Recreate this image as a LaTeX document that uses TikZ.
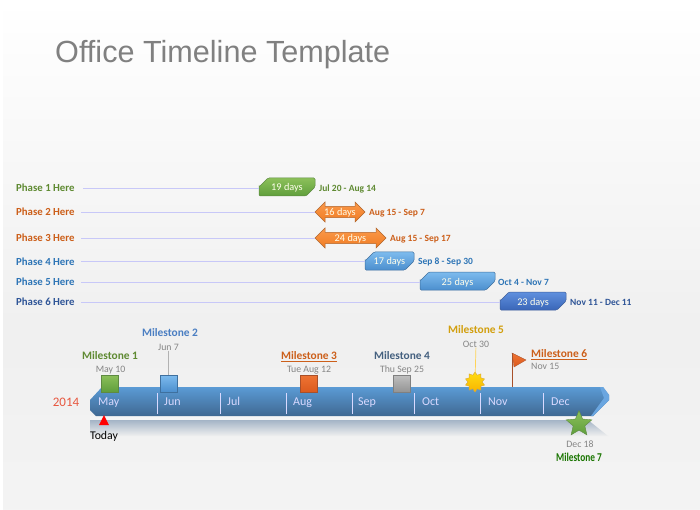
\documentclass[tikz,border=0pt]{standalone}
\usepackage{fontspec}
\setmainfont{Carlito}
\newfontfamily\titlefont{Liberation Sans}
\usetikzlibrary{shapes.misc,shapes.arrows,shapes.geometric}
\definecolor{greentxt}{HTML}{5F8A32}
\definecolor{orangetxt}{HTML}{CC5F1A}
\definecolor{bluetxt}{HTML}{2E75B6}
\definecolor{navytxt}{HTML}{2F5597}
\definecolor{slatetxt}{HTML}{44607F}
\definecolor{goldtxt}{HTML}{D29F0E}
\definecolor{skytxt}{HTML}{4A7EC2}
\definecolor{datetxt}{HTML}{858585}
\definecolor{linecol}{HTML}{C8C8F8}
\definecolor{greentop}{HTML}{8CC05A}
\definecolor{greenbot}{HTML}{5F9E3C}
\definecolor{greenedge}{HTML}{5E8A42}
\definecolor{lighttop}{HTML}{7DBBEE}
\definecolor{lightbot}{HTML}{4C8FCE}
\definecolor{lightedge}{HTML}{3F709E}
\definecolor{darktop}{HTML}{5F90DE}
\definecolor{darkbot}{HTML}{3A66B8}
\definecolor{darkedge}{HTML}{3F5F9A}
\definecolor{orangetop}{HTML}{FA9A4C}
\definecolor{orangebot}{HTML}{F07C22}
\definecolor{orangeedge}{HTML}{B0652C}
\definecolor{redtop}{HTML}{EE7433}
\definecolor{redbot}{HTML}{DC5A1E}
\definecolor{rededge}{HTML}{A8502A}
\definecolor{goldtop}{HTML}{FFDC14}
\definecolor{goldbot}{HTML}{F8B400}
\definecolor{goldedge}{HTML}{D8A838}
\definecolor{bandtop}{HTML}{5B9BD5}
\definecolor{bandbot}{HTML}{3F6892}
\definecolor{bandend}{HTML}{6AA6E0}
\definecolor{reflect}{HTML}{A4B4C6}
\tikzset{
  phaselabel/.style={anchor=mid west,inner sep=0,yshift=-1.5pt,font=\bfseries\fontsize{10.8}{12}\selectfont},
  rangelabel/.style={anchor=mid west,inner sep=0,yshift=-1pt,font=\bfseries\fontsize{9.5}{12}\selectfont},
  phaseline/.style={draw=linecol,line width=1pt},
  chambar/.style={chamfered rectangle,chamfered rectangle corners={north west,south east},
    chamfered rectangle xsep=5pt,chamfered rectangle ysep=5pt,inner sep=0,text=white!92!yellow,
    text height=8pt,text depth=0pt,rounded corners=1.2pt,
    font=\fontsize{10.3}{12}\selectfont,line width=.5pt},
  greenbar/.style={chambar,top color=greentop,bottom color=greenbot,draw=greenedge},
  lightbar/.style={chambar,top color=lighttop,bottom color=lightbot,draw=lightedge},
  darkbar/.style={chambar,top color=darktop,bottom color=darkbot,draw=darkedge},
  orangebar/.style={double arrow,double arrow head extend=3pt,inner sep=0,text=white!92!yellow,
    text height=7pt,text depth=0pt,
    top color=orangetop,bottom color=orangebot,draw=orangeedge,
    font=\fontsize{10.3}{12}\selectfont,line width=.5pt},
  mstitle/.style={inner sep=0,anchor=mid,yshift=-2pt,font=\bfseries\fontsize{11.4}{13}\selectfont},
  msdate/.style={inner sep=0,anchor=mid,yshift=-1pt,text=datetxt,font=\fontsize{9.8}{12}\selectfont},
  msbox/.style={rectangle,minimum size=17pt,inner sep=0,line width=.6pt},
  month/.style={inner sep=0,anchor=mid west,yshift=-1pt,text=white!85!blue,font=\fontsize{12}{14}\selectfont},
  monthtick/.style={draw=white!85!blue,line width=.6pt},
  leader/.style={line width=.7pt}
}
\begin{document}
\begin{tikzpicture}[x=1pt,y=-1pt]
  \useasboundingbox (0,0) rectangle (700,510);
  % Background
  \fill [white] (0,0) rectangle (700,510);
  \shade [top color=white,bottom color=black!6] (3,0) rectangle (700,330);
  \shade [top color=black!6,bottom color=black!4.5] (3,330) rectangle (700,510);
  % Title
  \node (title) [inner sep=0,anchor=mid west,text=black!50,font=\titlefont\fontsize{30.6}{34}\selectfont] at (55,60) {Office Timeline Template};
  % Phases
  \node (phase1) [phaselabel,text=greentxt] at (16,188) {Phase 1 Here};
  \node (phase2) [phaselabel,text=orangetxt] at (16,212) {Phase 2 Here};
  \node (phase3) [phaselabel,text=orangetxt] at (16,238) {Phase 3 Here};
  \node (phase4) [phaselabel,text=bluetxt] at (16,261.5) {Phase 4 Here};
  \node (phase5) [phaselabel,text=bluetxt] at (16,282) {Phase 5 Here};
  \node (phase6) [phaselabel,text=navytxt] at (16,302) {Phase 6 Here};
  % Bars
  \node (bar1) [greenbar,minimum width=56pt,minimum height=16pt] at (287,187) {19 days};
  \node (bar2) [orangebar,minimum height=50pt,minimum width=20pt] at (340,212) {16 days};
  \node (bar3) [orangebar,minimum height=71pt,minimum width=20pt] at (350.5,238) {24 days};
  \node (bar4) [lightbar,minimum width=49pt,minimum height=16pt] at (389.5,261) {17 days};
  \node (bar5) [lightbar,minimum width=75pt,minimum height=16pt] at (457.5,281) {25 days};
  \node (bar6) [darkbar,minimum width=66pt,minimum height=16pt] at (533,301) {23 days};
  % Lines
  \coordinate (line1) at (83,188.5);
  \coordinate (line2) at (81,212.5);
  \coordinate (line3) at (81,238.5);
  \coordinate (line4) at (81,261.5);
  \coordinate (line5) at (81,282.5);
  \coordinate (line6) at (81,302.5);
  \draw [phaseline] (line1) -- (line1 -| bar1.west);
  \draw [phaseline] (line2) -- (line2 -| bar2.west);
  \draw [phaseline] (line3) -- (line3 -| bar3.west);
  \draw [phaseline] (line4) -- (line4 -| bar4.west);
  \draw [phaseline] (line5) -- (line5 -| bar5.west);
  \draw [phaseline] (line6) -- (line6 -| bar6.west);
  % Ranges
  \node (range1) [rangelabel,text=greentxt] at (319,188) {Jul 20 - Aug 14};
  \node (range2) [rangelabel,text=orangetxt] at (369,212) {Aug 15 - Sep 7};
  \node (range3) [rangelabel,text=orangetxt] at (390,238) {Aug 15 - Sep 17};
  \node (range4) [rangelabel,text=bluetxt] at (418,261) {Sep 8 - Sep 30};
  \node (range5) [rangelabel,text=bluetxt] at (498,282) {Oct 4 - Nov 7};
  \node (range6) [rangelabel,text=navytxt] at (570,302) {Nov 11 - Dec 11};
  % Band
  \fill [white!96!black] (90,416) rectangle (593,420);
  \shade [top color=reflect,bottom color=black!6] (90,420) -- (588,420) -- (608,436) -- (90,436) -- cycle;
  \shade [top color=bandtop,bottom color=bandbot] (102,387) -- (603,387) -- (609,395) -- (609,400) -- (593,416) -- (96,416) -- (90,410) -- (90,400) -- cycle;
  \fill [bandend] (603,387) -- (609,395) -- (609,400) -- (593,416) -- (591,416) -- (604,398) -- (600,387) -- cycle;
  \node (year) [inner sep=0,anchor=mid,yshift=-1pt,text=red!55!brown!85!white,font=\fontsize{13}{15}\selectfont] at (66,403) {2014};
  % Months
  \node (may) [month] at (98,402) {May};
  \node (jun) [month] at (164,402) {Jun};
  \node (jul) [month] at (227,402) {Jul};
  \node (aug) [month] at (293,402) {Aug};
  \node (sep) [month] at (358,402) {Sep};
  \node (oct) [month] at (422,402) {Oct};
  \node (nov) [month] at (488,402) {Nov};
  \node (dec) [month] at (551,402) {Dec};
  \draw [monthtick] (157,393) -- (157,414);
  \draw [monthtick] (220,393) -- (220,414);
  \draw [monthtick] (286,393) -- (286,414);
  \draw [monthtick] (352,393) -- (352,414);
  \draw [monthtick] (414,393) -- (414,414);
  \draw [monthtick] (480,393) -- (480,414);
  \draw [monthtick] (543,393) -- (543,414);
  % Today
  \node (todaymark) [isosceles triangle,isosceles triangle apex angle=53,shape border rotate=90,fill=red,inner sep=0,minimum height=10pt,minimum width=10pt] at (104,422) {};
  \node (today) [inner sep=0,anchor=mid,yshift=-1pt,text=black,font=\fontsize{11.8}{14}\selectfont] at (104,436.5) {Today};
  % Milestones
  \node (ms1) [msbox,top color=greentop,bottom color=greenbot,draw=greenedge] at (109.5,383.5) {};
  \node (ms1date) [msdate] at (110.5,369) {May 10};
  \node (ms1title) [mstitle,text=greentxt] at (110,355.5) {Milestone 1};
  \node (ms2) [msbox,top color=lighttop,bottom color=lightbot,draw=lightedge] at (168.5,383.5) {};
  \node (ms2date) [msdate] at (168.5,347) {Jun 7};
  \node (ms2title) [mstitle,text=skytxt] at (170,332.5) {Milestone 2};
  \draw [leader,draw=black!30] (ms2date) -- (ms2);
  \node (ms3) [msbox,top color=redtop,bottom color=redbot,draw=rededge] at (308.5,383.5) {};
  \node (ms3date) [msdate] at (309,369) {Tue Aug 12};
  \node (ms3title) [mstitle,text=orangetxt] at (309,355.5) {\underline{Milestone 3}};
  \node (ms4) [msbox,top color=black!25,bottom color=black!42,draw=black!50] at (401.5,383.5) {};
  \node (ms4date) [msdate] at (402,369) {Thu Sep 25};
  \node (ms4title) [mstitle,text=slatetxt] at (402,355.5) {Milestone 4};
  \node (ms5) [star,star points=10,star point ratio=1.4,minimum size=20pt,inner sep=0,top color=goldtop,bottom color=goldbot,draw=goldedge,line width=.4pt] at (475,382) {};
  \node (ms5date) [msdate] at (476,344) {Oct 30};
  \node (ms5title) [mstitle,text=goldtxt] at (476,329.5) {Milestone 5};
  \draw [leader,draw=goldtop!70!orange!70!white] (ms5date) -- (ms5);
  \coordinate (flagtop) at (512,353);
  \coordinate (flagfoot) at (512,387);
  \coordinate (flagtip) at (526,360);
  \coordinate (flagend) at (514,367);
  \shade [top color=redtop,bottom color=redbot,draw=rededge,line width=.3pt] (flagtop) -- (flagtip) -- (flagend) -- cycle;
  \draw [leader,draw=rededge] (flagtop) -- (flagfoot);
  \node (ms6title) [mstitle,anchor=mid west,text=orangetxt] at (531,353.5) {\underline{Milestone 6}};
  \node (ms6date) [msdate,anchor=mid west] at (531,366.5) {Nov 15};
  \node (ms7) [star,star points=5,star point ratio=2.2,minimum size=27pt,inner sep=0,top color=greentop,bottom color=greenbot,draw=greenedge,line width=.4pt] at (579,424) {};
  \node (ms7date) [msdate] at (580,444) {Dec 18};
  \node (ms7title) [mstitle,text=green!40!black!90!yellow,xscale=.82,yscale=1.05] at (579,457) {Milestone 7};
\end{tikzpicture}
\end{document}
